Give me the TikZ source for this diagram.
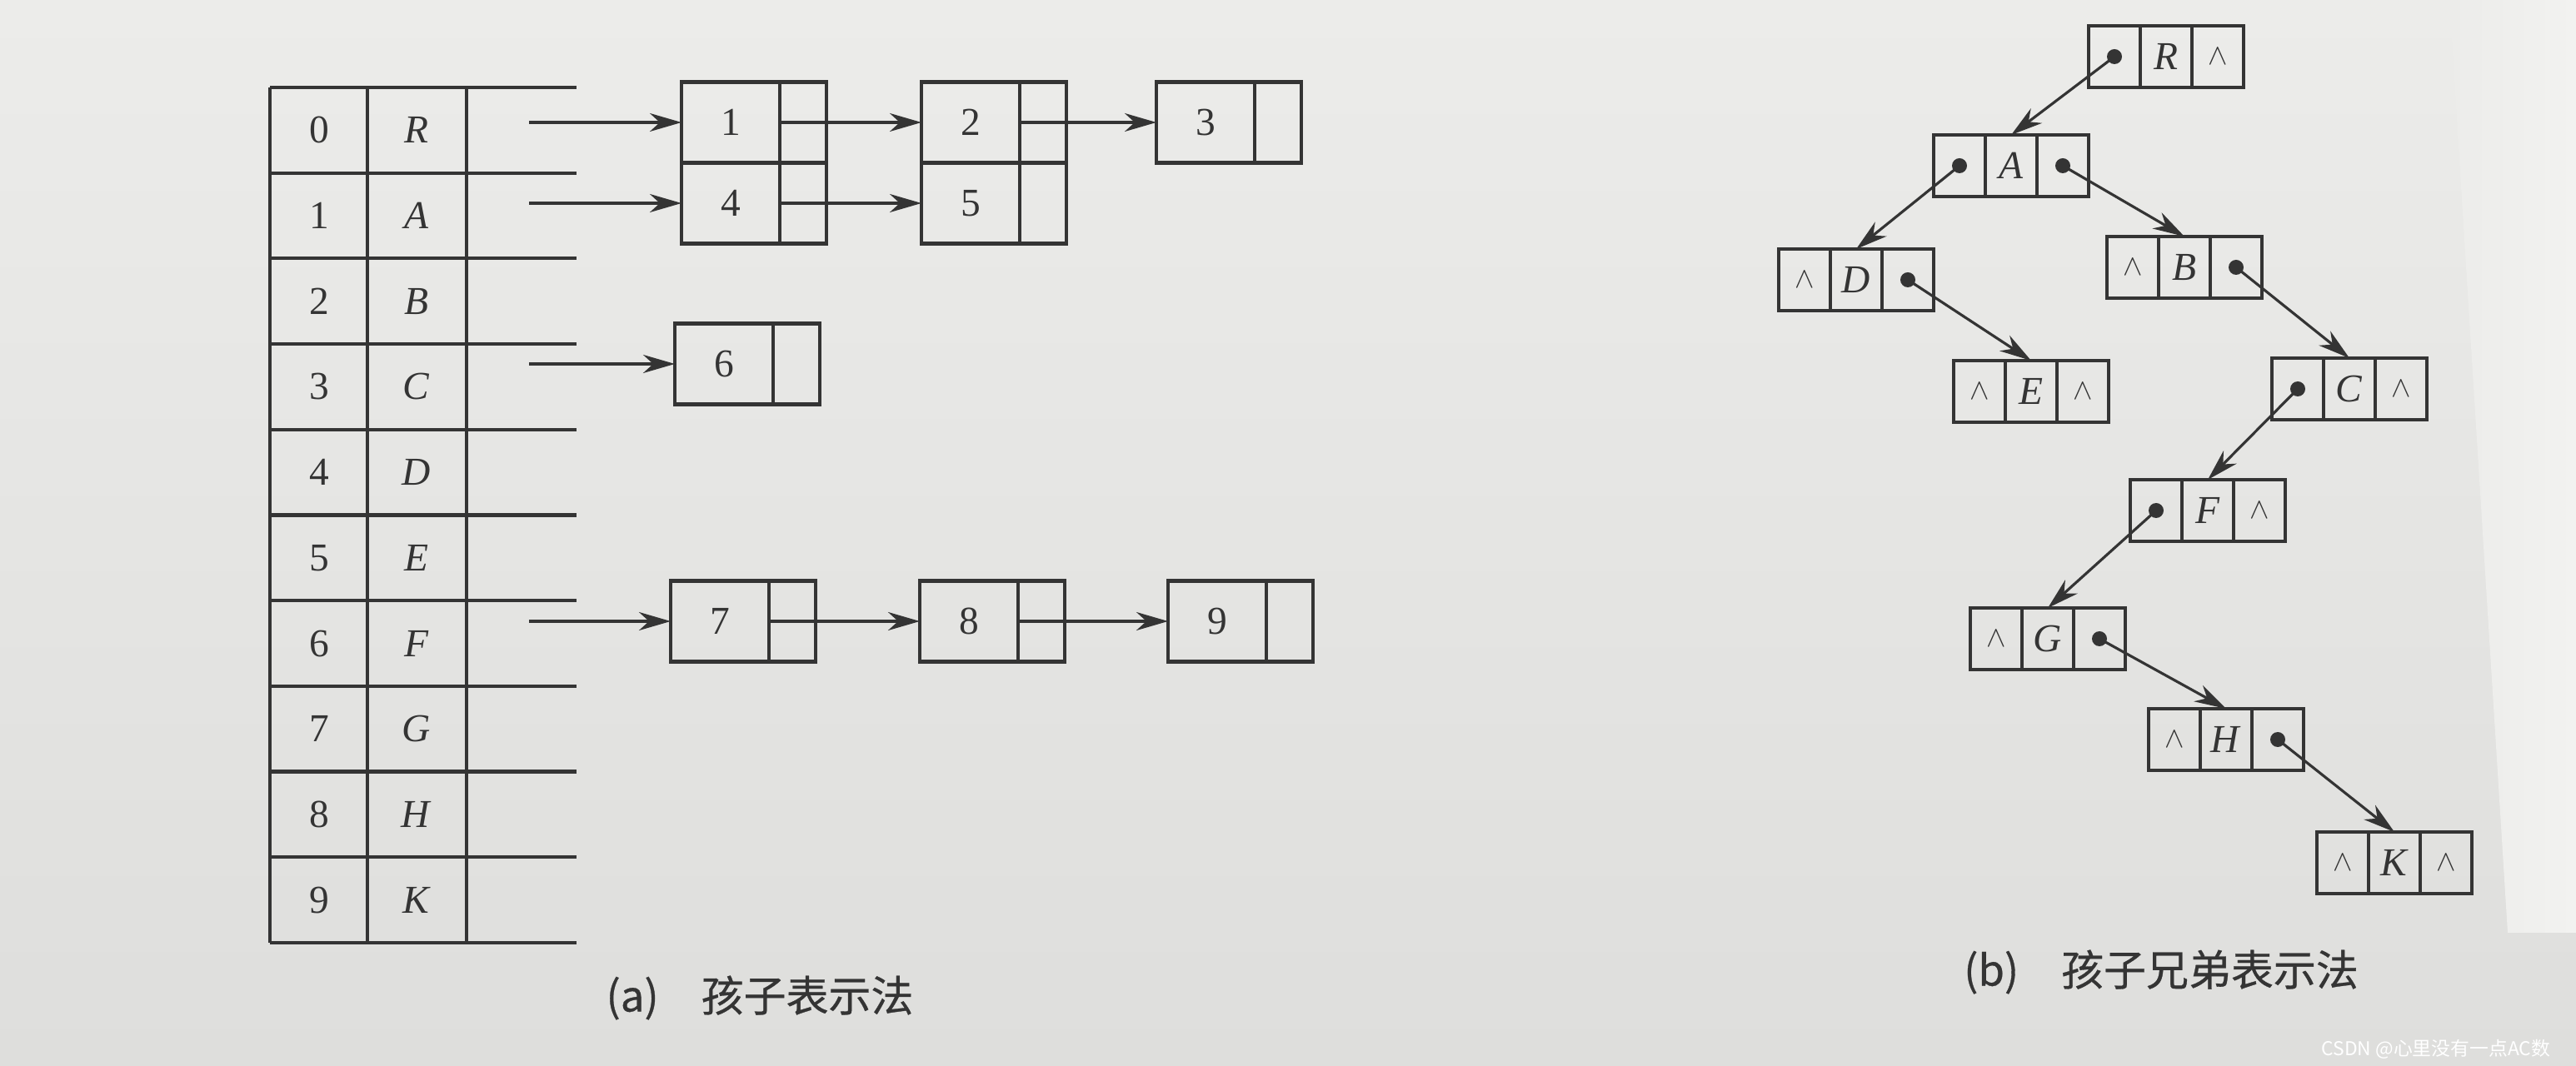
\documentclass[tikz,border=0pt]{standalone}
\usepackage{fontspec}
\setmainfont{Liberation Serif}
\newfontfamily\cjk{Noto Sans CJK SC}
\newfontfamily\cjkbold[FakeBold=0.6]{Noto Sans CJK SC}
\usetikzlibrary{arrows.meta,positioning}

\definecolor{papertop}{RGB}{236,236,234}
\definecolor{paperbot}{RGB}{222,222,220}
\definecolor{paperlight}{RGB}{242,242,240}
\definecolor{ink}{RGB}{52,52,52}

\tikzset{
  cell/.style={draw=ink, very thick, outer sep=0pt, inner sep=0pt,
    minimum height=0.97cm, font=\fontsize{13.5}{15}\selectfont},
  datacell/.style={cell, minimum width=1.18cm},
  ptrcell/.style={cell, minimum width=0.56cm},
  tcell/.style={cell, minimum width=0.62cm, minimum height=0.74cm},
  ptr/.style={ink, line width=0.9pt, -{Stealth[length=0.38cm, width=0.22cm, inset=0.12cm]}},
  subcap/.style={font=\cjkbold\fontsize{14.5}{16}\selectfont},
}

\newcommand\nilmark{{\fontsize{10}{12}\selectfont$\wedge$}}
\newcommand\chainbox[3]{%
  \node[datacell] (#1) at (#2) {#3};
  \node[ptrcell, right=0pt of #1] (#1p) {};
}
\newcommand\treebox[5]{%
  \node[tcell] (#1) at (#2) {\textit{#4}};
  \node[tcell, left=0pt of #1] (#1l) {#3};
  \node[tcell, right=0pt of #1] (#1r) {#5};
}

\begin{document}
\begin{tikzpicture}[very thick, color=ink]
    \useasboundingbox (0,0) rectangle (30.92,-12.80);
    \shade[top color=papertop, bottom color=paperbot] (0,0) rectangle (30.92,-12.80);
    \shade[left color=papertop, right color=paperlight] (29.40,0) -- (30.92,0) -- (30.92,-11.2) -- (30.10,-11.2) -- cycle;

    \foreach \i in {0,...,10}
        \draw (3.24,{-1.05-1.027*\i}) -- (6.92,{-1.05-1.027*\i});
    \foreach \x in {3.24,4.41,5.60}
        \draw (\x,-1.05) -- (\x,-11.32);
    \foreach \i/\ch in {0/R,1/A,2/B,3/C,4/D,5/E,6/F,7/G,8/H,9/K} {
        \node[font=\fontsize{13.5}{15}\selectfont] (n\i) at (3.83,{-1.05-1.027*(\i+0.5)}) {\i};
        \node[font=\fontsize{13.5}{15}\selectfont] (l\i) at (5.00,{-1.05-1.027*(\i+0.5)}) {\textit{\ch}};
    }

    \chainbox{b1}{8.77,-1.47}{1}
    \chainbox{b4}{8.77,-2.44}{4}
    \chainbox{b2}{11.65,-1.47}{2}
    \chainbox{b5}{11.65,-2.44}{5}
    \chainbox{b3}{14.47,-1.47}{3}
    \chainbox{b6}{8.69,-4.37}{6}
    \chainbox{b7}{8.64,-7.46}{7}
    \chainbox{b8}{11.63,-7.46}{8}
    \chainbox{b9}{14.61,-7.46}{9}

    \coordinate (t0) at (6.35,-1.47);
    \coordinate (t1) at (6.35,-2.44);
    \coordinate (t3) at (6.35,-4.37);
    \coordinate (t6) at (6.35,-7.46);
    \foreach \a/\b in {t0/b1, t1/b4, t3/b6, t6/b7, b1p/b2, b4p/b5, b2p/b3, b7p/b8, b8p/b9}
        \draw[ptr] (\a.west) -- (\b.west);

    \treebox{R}{26.00,-0.68}{}{R}{\nilmark}
    \treebox{A}{24.14,-1.99}{}{A}{}
    \treebox{D}{22.28,-3.36}{\nilmark}{D}{}
    \treebox{B}{26.22,-3.21}{\nilmark}{B}{}
    \treebox{E}{24.38,-4.70}{\nilmark}{E}{\nilmark}
    \treebox{C}{28.20,-4.67}{}{C}{\nilmark}
    \treebox{F}{26.50,-6.13}{}{F}{\nilmark}
    \treebox{G}{24.58,-7.67}{\nilmark}{G}{}
    \treebox{H}{26.72,-8.88}{\nilmark}{H}{}
    \treebox{K}{28.74,-10.36}{\nilmark}{K}{\nilmark}

    \foreach \a/\b in {Rl/A, Al/D, Ar/B, Dr/E, Br/C, Cl/F, Fl/G, Gr/H, Hr/K} {
        \fill[ink] (\a) circle (0.09);
        \draw[ptr] (\a.center) -- (\b.north);
    }

    \node[subcap] (capa) at (9.12,-11.98) {(a)\quad 孩子表示法};
    \node[subcap] (capb) at (25.94,-11.67) {(b)\quad 孩子兄弟表示法};
    \node[font=\cjk\fontsize{6.5}{8}\selectfont, text=white, anchor=east] (mark) at (30.75,-12.60) {CSDN @心里没有一点AC数};
\end{tikzpicture}
\end{document}
